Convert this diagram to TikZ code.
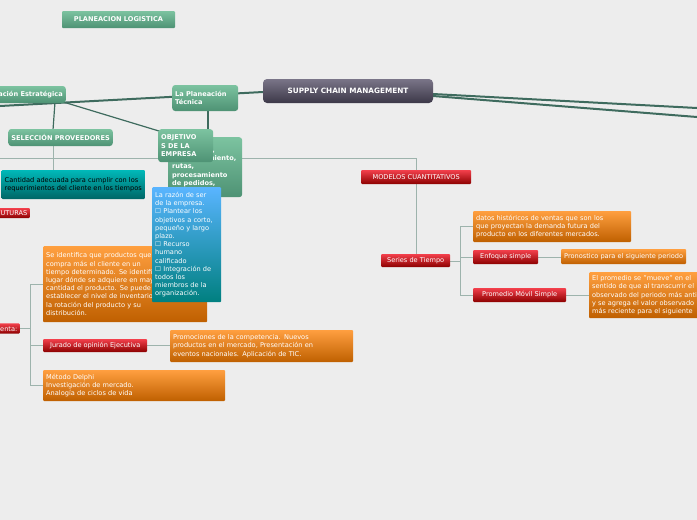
\documentclass[tikz,border=0pt]{standalone}
\usepackage{fontspec}
\setmainfont{DejaVu Sans}
\usetikzlibrary{positioning}
\definecolor{bg}{HTML}{EDEDED}
\definecolor{trunk}{HTML}{3E6B5E}
\definecolor{twig}{HTML}{9DB3AC}
\definecolor{greentop}{HTML}{7CC3A0}
\definecolor{greenbot}{HTML}{4E9274}
\definecolor{scmtop}{HTML}{7A7588}
\definecolor{scmbot}{HTML}{3C3848}
\tikzset{
  base/.style={inner sep=3pt, text=white, align=left, font=\fontsize{6.6}{8.2}\selectfont, rounded corners=1pt},
  greenbox/.style={base, top color=greentop, bottom color=greenbot, font=\fontsize{6.6}{8.2}\selectfont\bfseries, rounded corners=3pt},
  redbox/.style={base, top color=red!75!purple!75, bottom color=red!55!black, inner sep=2.5pt, align=center},
  orangebox/.style={base, top color=orange!75!white, bottom color=orange!75!black, inner sep=3pt},
  tealbox/.style={base, top color=teal!55!cyan, bottom color=teal!80!black, text=black},
  bluebox/.style={base, top color=cyan!55!blue!65, bottom color=cyan!50!black},
  thick link/.style={trunk, line width=2pt},
  thin link/.style={twig, line width=1pt},
}
\begin{document}
\begin{tikzpicture}[x=1pt,y=-1pt]
  \fill[bg] (0,0) rectangle (697,520);
  \clip (0,0) rectangle (697,520);
  % trunk lines
  \draw[thick link] (263,92) -- (0,106);
  \draw[thick link] (433,94) -- (697,108);
  \draw[thick link] (433,96) -- (697,117);
  \draw[thick link, line width=1.2pt] (60,101) -- (215,148);
  \draw[thick link, line width=1.2pt] (55,102) -- (53,130);
  \draw[thick link, line width=1.2pt] (208,110) -- (208,130);
  % thin branches
  \draw[thin link] (0,158) -- (416,158) -- (416,254);
  \draw[thin link] (53,146) -- (53,170);
  \draw[thin link] (450,261) -- (460,261);
  \draw[thin link] (473,226) -- (460,226) -- (460,295) -- (473,295);
  \draw[thin link] (460,257) -- (473,257);
  \draw[thin link] (538,257) -- (561,257);
  \draw[thin link] (566,295) -- (589,295);
  \draw[thin link] (20,328) -- (30,328);
  \draw[thin link] (43,284) -- (30,284) -- (30,385) -- (43,385);
  \draw[thin link] (30,345) -- (43,345);
  \draw[thin link] (147,345) -- (170,345);
  % nodes
  \node[greenbox, minimum width=113pt, minimum height=17pt, align=center, rounded corners=1pt] (logistica) at (118.5,19.5) {PLANEACION LOGISTICA};
  \node[base, top color=scmtop, bottom color=scmbot, minimum width=170pt, minimum height=24pt, align=center, rounded corners=4pt, font=\fontsize{7.3}{9}\selectfont\bfseries] (scm) at (348,91) {SUPPLY CHAIN MANAGEMENT};
  \node[greenbox, text width=60pt, minimum height=26pt, anchor=west] (tecnica) at (172,98) {La Planeación\\Técnica};
  \node[greenbox, minimum height=17pt, anchor=east] (estrategica) at (66,94.5) {Planeación Estratégica};
  \node[greenbox, minimum height=17pt, anchor=east] (proveedores) at (113,137.5) {SELECCIÓN PROVEEDORES};
  \node[tealbox, anchor=east, minimum height=29pt] (cantidad) at (145,184.5) {Cantidad adecuada para cumplir con los\\requerimientos del cliente en los tiempos};
  \node[redbox, anchor=east] (futuras) at (30,213) {PROYECCIONES FUTURAS};
  \node[greenbox, anchor=north west, text width=66pt, minimum height=60pt, inner sep=4pt] (procesos) at (168,137) {Transporte,\\almacenamiento,\\rutas,\\procesamiento\\de pedidos,};
  \node[greenbox, anchor=north west, text width=49pt, minimum height=33pt] (objetivos) at (158,129) {OBJETIVO\\S DE LA\\EMPRESA};
  \node[orangebox, anchor=north west, text width=158pt, minimum height=76pt] (productos) at (43,246) {Se identifica que productos que\\compra más el cliente en un\\tiempo determinado. Se identifica el\\lugar dónde se adquiere en mayor\\cantidad el producto. Se puede\\establecer el nivel de inventario,\\la rotación del producto y su\\distribución.};
  \node[bluebox, anchor=north west, text width=63pt, minimum height=115pt, inner sep=3pt] (razon) at (152,187) {La razón de ser\\de la empresa.\\☐ Plantear los\\objetivos a corto,\\pequeño y largo\\plazo.\\☐ Recurso\\humano\\calificado\\☐ Integración de\\todos los\\miembros de la\\organización.};
  \node[redbox, anchor=east] (venta) at (20,328.5) {Pronósticos de venta:};
  \node[redbox, anchor=west, minimum width=104pt, minimum height=13pt] (jurado) at (43,345.5) {Jurado de opinión Ejecutiva};
  \node[orangebox, anchor=west, text width=177pt, minimum height=32pt] (promociones) at (170,346) {Promociones de la competencia. Nuevos\\productos en el mercado, Presentación en\\eventos nacionales. Aplicación de TIC.};
  \node[orangebox, anchor=west, text width=176pt, minimum height=31pt] (delphi) at (43,385.5) {Método Delphi\\Investigación de mercado.\\Analogía de ciclos de vida};
  \node[redbox, anchor=west, minimum width=110pt, minimum height=14pt] (cuantitativos) at (361,177) {MODELOS CUANTITATIVOS};
  \node[redbox, anchor=west, minimum width=69pt, minimum height=13pt] (series) at (381,260.5) {Series de Tiempo};
  \node[orangebox, anchor=west, text width=152pt, minimum height=31pt] (datos) at (473,226.5) {datos históricos de ventas que son los\\que proyectan la demanda futura del\\producto en los diferentes mercados.};
  \node[redbox, anchor=west, minimum width=65pt, minimum height=14pt] (enfoque) at (473,257) {Enfoque simple};
  \node[orangebox, anchor=west, minimum height=15pt] (pronostico) at (561,256.5) {Pronostico para el siguiente periodo};
  \node[redbox, anchor=west, minimum width=93pt, minimum height=14pt] (movil) at (473,295) {Promedio Móvil Simple};
  \node[orangebox, anchor=north west, minimum height=46pt] (promedio) at (589,272) {El promedio se "mueve" en el\\sentido de que al transcurrir el\\observado del periodo más antiguo\\y se agrega el valor observado\\más reciente para el siguiente};
\end{tikzpicture}
\end{document}
